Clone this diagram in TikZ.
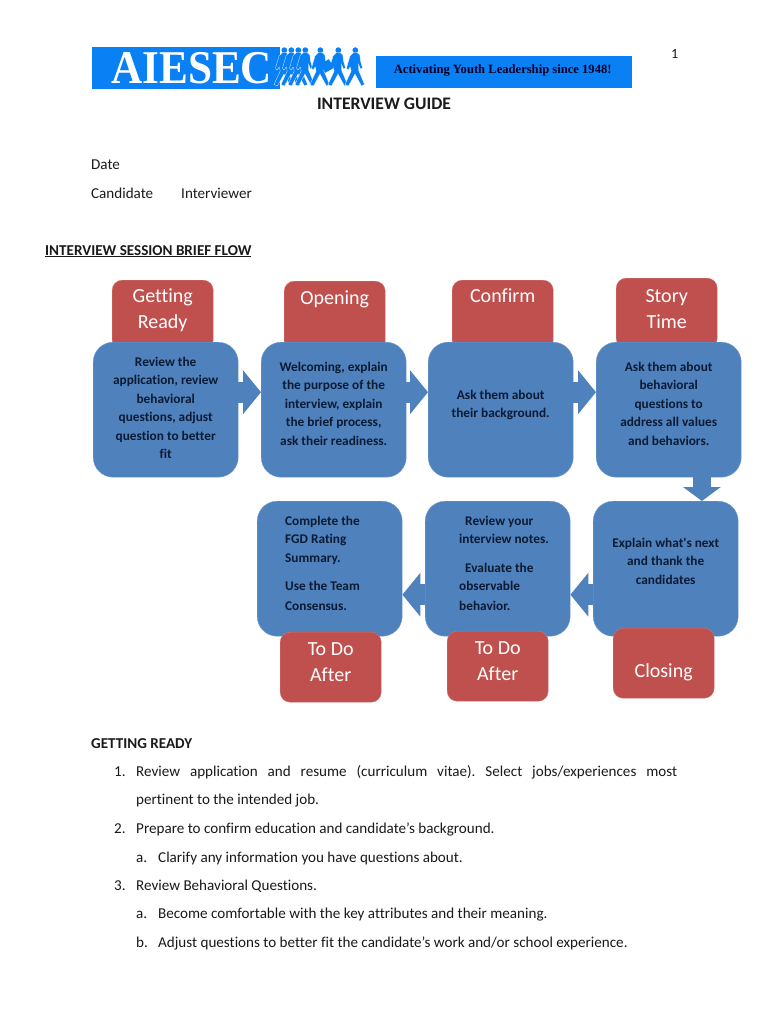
\documentclass[tikz,border=0pt]{standalone}
\usepackage{fontspec}
\setmainfont[Ligatures=NoCommon]{Carlito}
\newfontfamily\logofont{Liberation Serif}
\usetikzlibrary{arrows.meta}
\definecolor{bluebox}{HTML}{4F81BD}
\definecolor{redbox}{HTML}{C0504D}
\definecolor{logoblue}{HTML}{0A80F5}
\definecolor{navytext}{HTML}{0C1B33}
\definecolor{bodytext}{HTML}{1A1A1A}
\newcommand{\st}{\rule{0pt}{10pt}}
\newcommand{\btext}[3]{\parbox[c][135pt][t]{145pt}{\fontsize{13.3}{18.5}\selectfont\bfseries\setlength{\parskip}{0pt}\vspace*{#1}#2#3}}
\newcommand{\rtext}[2]{\parbox[c][70pt][t]{101pt}{\fontsize{20}{26.5}\selectfont\centering\vspace*{#1}\rule{0pt}{14pt}#2}}
\newcommand{\person}[3]{%
  \begin{scope}[shift={(#1,#2)},scale=#3]
    \fill[logoblue] (0.3,3.2) circle (2.9);
    \fill[logoblue,draw=white,line width=.25pt] (-1.5,5.5) -- (2,5.5) -- (4.8,8) -- (5.5,14) -- (7.5,21) -- (5.5,22) -- (3.5,17) -- (3.5,23) -- (9.5,37.5) -- (6.5,39) -- (0,27) -- (-6.5,39) -- (-10,37.5) -- (-3.8,24) -- (-4.8,20) -- (-7,23) -- (-8.5,21) -- (-5,9) -- cycle;
  \end{scope}}
\tikzset{
  blue box/.style={fill=bluebox,draw=bluebox!80!white,line width=.4pt,rounded corners=20pt,minimum width=145pt,minimum height=135pt,inner sep=0pt,text=navytext,anchor=north west},
  red box/.style={fill=redbox,draw=redbox!80!white,line width=.4pt,rounded corners=10pt,minimum width=101pt,minimum height=70pt,inner sep=0pt,text=white,anchor=north west},
  flow/.style={bluebox,line width=21pt,-{Triangle[length=18pt,width=43pt]}},
  body/.style={anchor=base west,inner sep=0pt,text=bodytext,font=\fontsize{15.1}{18}\selectfont},
  bodyb/.style={body,font=\fontsize{15.1}{18}\selectfont\bfseries},
}
\begin{document}
\begin{tikzpicture}[x=1pt,y=-1pt]
\useasboundingbox (0,0) rectangle (768,1024);
\fill[white] (0,0) rectangle (768,1024);
% logo
\fill[logoblue] (92,47) rectangle (280,89);
\node[name=logotext,anchor=base west,inner sep=0pt,text=white,font=\logofont\fontsize{47}{47}\selectfont\bfseries,xscale=.92] at (111,84) {AIESEC};
\foreach \px/\py in {284/47,291/47,298/47,305/47,320/47,338/47,355/47}{\person{\px}{\py}{1}}
\fill[logoblue,rotate around={30:(327,66)}] (322,61) rectangle (332,71);
\node[name=tagline,fill=logoblue,minimum width=256pt,minimum height=32pt,inner sep=0pt,anchor=north west,font=\logofont\fontsize{12.6}{13}\selectfont\bfseries,text=black!85!blue] at (376,56) {\raisebox{6.5pt}{\hspace{-3pt}Activating Youth Leadership since 1948!}};
\node[name=pagenum,body,font=\fontsize{14}{16}\selectfont] at (671,59) {1};
\node[name=title,anchor=base,inner sep=0pt,font=\fontsize{17.6}{20}\selectfont\bfseries,text=bodytext] at (384,110) {INTERVIEW GUIDE};
\node[name=date,body] at (91,170) {Date};
\node[name=cand,body] at (91,199) {Candidate};
\node[name=intv,body] at (181,199) {Interviewer};
\node[name=flowhead,bodyb] at (45,255) {\underline{INTERVIEW SESSION BRIEF FLOW}};
% top red tabs
\node[red box,name=r1] at (112,280) {\rtext{8pt}{Getting\\Ready}};
\node[red box,name=r2] at (284,281) {\rtext{9pt}{Opening}};
\node[red box,name=r3] at (452,280) {\rtext{8pt}{Confirm}};
\node[red box,name=r4] at (616,278) {\rtext{10pt}{Story\\Time}};
% blue boxes
\node[blue box,name=b1] at (93,342) {\btext{14pt}{\centering}{\st Review the\\application, review\\behavioral\\questions, adjust\\question to better\\fit}};
\node[blue box,name=b2] at (261,342) {\btext{19pt}{\centering}{\st Welcoming, explain\\the purpose of the\\interview, explain\\the brief process,\\ask their readiness.}};
\node[blue box,name=b3] at (428,342) {\btext{47pt}{\centering}{\st Ask them about\\their background.}};
\node[blue box,name=b4] at (596,342) {\btext{19pt}{\centering}{\st Ask them about\\behavioral\\questions to\\address all values\\and behaviors.}};
\node[blue box,name=b5] at (593,501) {\btext{36pt}{\centering}{\st Explain what\textquotesingle s next\\and thank the\\candidates}};
\node[blue box,name=b6] at (425,501) {\btext{14pt}{\raggedright\leftskip=34pt}{\st\hspace*{6pt}Review your\\interview notes.\\[10pt]\hspace*{6pt}Evaluate the\\observable\\[1pt]behavior.}};
\node[blue box,name=b7] at (257,501) {\btext{14pt}{\raggedright\leftskip=28pt}{\st Complete the\\FGD Rating\\Summary.\\[10pt]Use the Team\\[1pt]Consensus.}};
% bottom red tabs
\node[red box,name=r5] at (613,628) {\rtext{35pt}{Closing}};
\node[red box,name=r6] at (447,631) {\rtext{9pt}{To Do\\After}};
\node[red box,name=r7] at (280,632) {\rtext{9pt}{To Do\\After}};
% connectors
\draw[flow] ([yshift=17.5pt]b1.east) -- ([yshift=17.5pt]b2.west);
\draw[flow] ([yshift=17.5pt]b2.east) -- ([yshift=17.5pt]b3.west);
\draw[flow] ([yshift=17.5pt]b3.east) -- ([yshift=17.5pt]b4.west);
\draw[flow,line width=18pt,-{Triangle[length=14pt,width=37pt]}] ([xshift=33.2pt]b4.south) -- ([xshift=33.2pt]b4.south |- b5.north);
\draw[flow] ([yshift=-26pt]b5.west) -- ([yshift=-26pt]b6.east);
\draw[flow] ([yshift=-26pt]b6.west) -- ([yshift=-26pt]b7.east);
% text list
\node[name=gr,bodyb] at (91,748) {GETTING READY};
\node[name=n1,body] at (114,776) {1.};
\node[name=t1,body] at (136,776) {\hbox to 541pt{Review\hfill application\hfill and\hfill resume\hfill (curriculum\hfill vitae).\hfill Select\hfill jobs/experiences\hfill most}};
\node[name=t1b,body] at (136,804) {pertinent to the intended job.};
\node[name=n2,body] at (114,833) {2.};
\node[name=t2,body] at (136,833) {Prepare to confirm education and candidate’s background.};
\node[name=a1,body] at (136,862) {a.};
\node[name=ta1,body] at (158,862) {Clarify any information you have questions about.};
\node[name=n3,body] at (114,890) {3.};
\node[name=t3,body] at (136,890) {Review Behavioral Questions.};
\node[name=a2,body] at (136,918) {a.};
\node[name=ta2,body] at (158,918) {Become comfortable with the key attributes and their meaning.};
\node[name=b2l,body] at (136,947) {b.};
\node[name=tb2,body] at (158,947) {Adjust questions to better fit the candidate’s work and/or school experience.};
\end{tikzpicture}
\end{document}
